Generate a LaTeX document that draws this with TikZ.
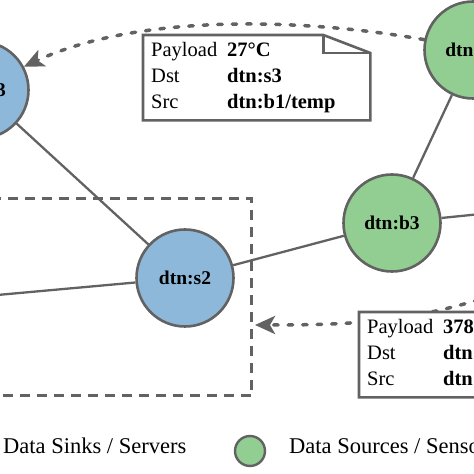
\documentclass[tikz,border=0pt]{standalone}
\usepackage{fontspec}
\setmainfont{Liberation Serif}
\usepackage{tikz}
\usetikzlibrary{
    arrows.meta,                      % puntas Stealth
    calc                              % desplazamientos de anclas
}
\definecolor{sink_blue}{RGB}{142,184,217}
\definecolor{source_green}{RGB}{146,205,146}
\definecolor{edge_gray}{RGB}{98,98,98}
\tikzset{
    dtn/.style={
        circle, draw=edge_gray, line width=2.6pt,
        minimum size=97pt, inner sep=0pt,
        font=\fontsize{19.5}{22}\selectfont\bfseries
    },
    sink/.style={
        dtn, fill=sink_blue
    },
    source/.style={
        dtn, fill=source_green
    },
    link/.style={
        draw=edge_gray, line width=2.3pt
    },
    msg/.style={
        draw=edge_gray, line width=3.5pt, line cap=round,
        dash pattern=on 4.5pt off 10pt,
        -{Stealth[length=20pt, width=18pt, inset=5pt]}
    }
}

\begin{document}
\begin{tikzpicture}[
      x=1pt, y=1pt,
      groupbox/.style={draw=edge_gray, line width=2.6pt, dash pattern=on 10pt off 7pt},
      memo/.style    ={fill=white, anchor=north west, inner xsep=8pt, inner ysep=3.5pt,
                       text width=211pt, minimum height=85pt, align=left,
                       font=\fontsize{20.5}{26}\selectfont},
      memoline/.style={draw=edge_gray, line width=2.6pt, line join=miter},
      legend/.style  ={anchor=base west, inner sep=0pt, font=\fontsize{22.5}{26}\selectfont}
    ]
    \useasboundingbox (0,0) rectangle (474,474);
    \clip (0,0) rectangle (474,474);

    % --- Grupo (recuadro discontinuo) ---
    \node[groupbox, minimum width=300pt, minimum height=197pt, anchor=south east] (group) at (253,77) {};

    % --- Nodos DTN ---
    \node[sink]   (s3) at (-20,384) {dtn:s3};
    \node[sink]   (s2) at (185,196) {dtn:s2};
    \node[source] (b3) at (392,251) {dtn:b3};
    \node[source] (b1) at (473,424) {dtn:b1};

    % --- Extremos fuera del recorte ---
    \coordinate (west_end) at (-80,172);
    \coordinate (east_end) at (520,264);
    \coordinate (feed)     at (520,188);
    \coordinate (group_in) at (255,149);

    % --- Enlaces ---
    \draw[link] (s3) -- (s2);
    \draw[link] (s2) -- (west_end);
    \draw[link] (s2) -- (b3);
    \draw[link] (b3) -- (b1);
    \draw[link] (b3) -- (east_end);

    % --- Mensajes (paquetes en transito) ---
    \draw[msg] (b1.168) to[out=170, in=25, looseness=0.8] (s3.28);
    \draw[msg] (feed) to[out=200, in=0] (group_in);

    % --- Paquete 1 ---
    \node[memo] (pkt1) at (143,439)
        {\begin{tabular}{@{}l@{\hspace{10pt}}l@{}}
         Payload & \textbf{27°C}\\
         Dst     & \textbf{dtn:s3}\\
         Src     & \textbf{dtn:b1/temp}
         \end{tabular}};
    \draw[memoline] (pkt1.north west) -- ([xshift=-47pt]pkt1.north east)
        -- ([yshift=-18pt]pkt1.north east) -- (pkt1.south east) -- (pkt1.south west) -- cycle;
    \draw[memoline] ([xshift=-47pt]pkt1.north east) |- ([yshift=-18pt]pkt1.north east);

    % --- Paquete 2 ---
    \node[memo] (pkt2) at (359,162)
        {\begin{tabular}{@{}l@{\hspace{10pt}}l@{}}
         Payload & \textbf{378}\\
         Dst     & \textbf{dtn}\\
         Src     & \textbf{dtn}
         \end{tabular}};
    \draw[memoline] (pkt2.north west) -- ([xshift=-47pt]pkt2.north east)
        -- ([yshift=-18pt]pkt2.north east) -- (pkt2.south east) -- (pkt2.south west) -- cycle;
    \draw[memoline] ([xshift=-47pt]pkt2.north east) |- ([yshift=-18pt]pkt2.north east);

    % --- Leyenda ---
    \node[legend] (leg_sink) at (3,20) {Data Sinks / Servers};
    \node[source, minimum size=30pt, line width=2.4pt] (leg_dot) at (250,23) {};
    \node[legend] (leg_source) at (289,20) {Data Sources / Sensors};

  \end{tikzpicture}
\end{document}
